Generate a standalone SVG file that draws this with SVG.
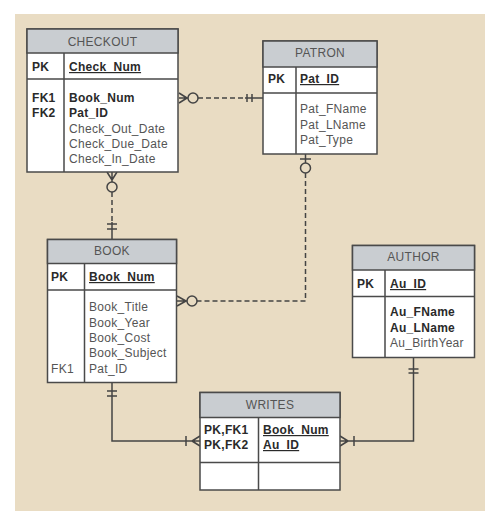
<svg xmlns="http://www.w3.org/2000/svg" width="491" height="517" viewBox="0 0 491 517">
<style>
.bg{fill:#e9dcc3}
.box{fill:#fff;stroke:#4a4a4a;stroke-width:1.5}
.hdr{fill:#c9cdd1;stroke:#4a4a4a;stroke-width:1.5}
.sep{stroke:#4a4a4a;stroke-width:1.5;fill:none}
text{font-family:"Liberation Sans",Arial,sans-serif;font-size:12px;letter-spacing:0.3px;fill:#555}
.h{text-anchor:middle;fill:#555}
.b{font-weight:bold;fill:#2a2a2a}
.u{text-decoration:underline}
.ln{stroke:#444;stroke-width:1.5;fill:none}
.d{stroke-dasharray:5 3}
.o{fill:#e9dcc3;stroke:#444;stroke-width:1.5}
</style>
<rect class="bg" x="15" y="14" width="470" height="497"/>

<g id="connectors">
  <!-- CHECKOUT - PATRON -->
  <path class="ln" d="M179,93 L187,98 M179,103 L187,98 M179,98 L188,98"/>
  <circle class="o" cx="193" cy="98" r="5"/>
  <path class="ln d" d="M198,98 H245"/>
  <path class="ln" d="M245,98 H263 M247,94 V102 M252,94 V102"/>
  <!-- CHECKOUT - BOOK -->
  <path class="ln" d="M107,172 L112,180 M117,172 L112,180 M112,172 V182"/>
  <circle class="o" cx="112" cy="187" r="5"/>
  <path class="ln d" d="M112,192 V222"/>
  <path class="ln" d="M112,222 V239 M107,224 H117 M107,229 H117"/>
  <!-- PATRON - BOOK -->
  <path class="ln" d="M305.5,154 V163 M300,159 H311"/>
  <circle class="o" cx="305.5" cy="168" r="5"/>
  <path class="ln d" d="M305.5,173 V301 H197"/>
  <circle class="o" cx="192" cy="301" r="5"/>
  <path class="ln" d="M177,296 L186,301 M177,306 L186,301 M177,301 H187"/>
  <!-- BOOK - WRITES -->
  <path class="ln" d="M112,382.5 V441 H200 M107,391 H117 M107,396 H117 M186,436 V446 M200,436 L192,441 M200,446 L192,441"/>
  <!-- AUTHOR - WRITES -->
  <path class="ln" d="M413.5,357.5 V441 H340 M408.5,369 H418.5 M408.5,373 H418.5 M354,436 V446 M340,436 L348,441 M340,446 L348,441"/>
</g>

<g id="checkout">
  <rect class="box" x="27" y="29" width="151" height="143"/>
  <rect class="hdr" x="27" y="29" width="151" height="24"/>
  <path class="sep" d="M27,79 H178 M64,53 V172"/>
  <text class="h" x="102.5" y="46">CHECKOUT</text>
  <text class="b" x="32" y="71">PK</text>
  <text class="b u" x="69" y="71">Check_Num</text>
  <text class="b" x="32" y="102">FK1</text>
  <text class="b" x="32" y="117">FK2</text>
  <text class="b" x="69" y="102">Book_Num</text>
  <text class="b" x="69" y="117">Pat_ID</text>
  <text x="69" y="133">Check_Out_Date</text>
  <text x="69" y="148">Check_Due_Date</text>
  <text x="69" y="163">Check_In_Date</text>
</g>

<g id="patron">
  <rect class="box" x="263" y="41" width="114" height="113"/>
  <rect class="hdr" x="263" y="41" width="114" height="26"/>
  <path class="sep" d="M263,93 H377 M296,67 V154"/>
  <text class="h" x="320" y="57">PATRON</text>
  <text class="b" x="268" y="83">PK</text>
  <text class="b u" x="300" y="83">Pat_ID</text>
  <text x="300" y="113">Pat_FName</text>
  <text x="300" y="129">Pat_LName</text>
  <text x="300" y="144">Pat_Type</text>
</g>

<g id="book">
  <rect class="box" x="47.5" y="239.5" width="129" height="143"/>
  <rect class="hdr" x="47.5" y="239.5" width="129" height="24"/>
  <path class="sep" d="M47.5,290 H176.5 M84.5,263.5 V382.5"/>
  <text class="h" x="112" y="255">BOOK</text>
  <text class="b" x="51" y="281">PK</text>
  <text class="b u" x="89" y="281">Book_Num</text>
  <text x="89" y="311">Book_Title</text>
  <text x="89" y="326.5">Book_Year</text>
  <text x="89" y="342">Book_Cost</text>
  <text x="89" y="357">Book_Subject</text>
  <text x="51" y="372.5">FK1</text>
  <text x="89" y="372.5">Pat_ID</text>
</g>

<g id="author">
  <rect class="box" x="352.5" y="245.5" width="122" height="112"/>
  <rect class="hdr" x="352.5" y="245.5" width="122" height="24.5"/>
  <path class="sep" d="M352.5,296.5 H474.5 M385,270 V357.5"/>
  <text class="h" x="413.5" y="261">AUTHOR</text>
  <text class="b" x="357" y="288">PK</text>
  <text class="b u" x="390" y="288">Au_ID</text>
  <text class="b" x="390" y="316">Au_FName</text>
  <text class="b" x="390" y="331.5">Au_LName</text>
  <text x="390" y="347">Au_BirthYear</text>
</g>

<g id="writes">
  <rect class="box" x="200" y="392.5" width="140" height="97.5"/>
  <rect class="hdr" x="200" y="392.5" width="140" height="25"/>
  <path class="sep" d="M200,462.5 H340 M258.5,417.5 V490"/>
  <text class="h" x="270" y="408.5">WRITES</text>
  <text class="b" x="204" y="434">PK,FK1</text>
  <text class="b" x="204" y="449">PK,FK2</text>
  <text class="b u" x="263" y="434">Book_Num</text>
  <text class="b u" x="263" y="449">Au_ID</text>
</g>
</svg>
